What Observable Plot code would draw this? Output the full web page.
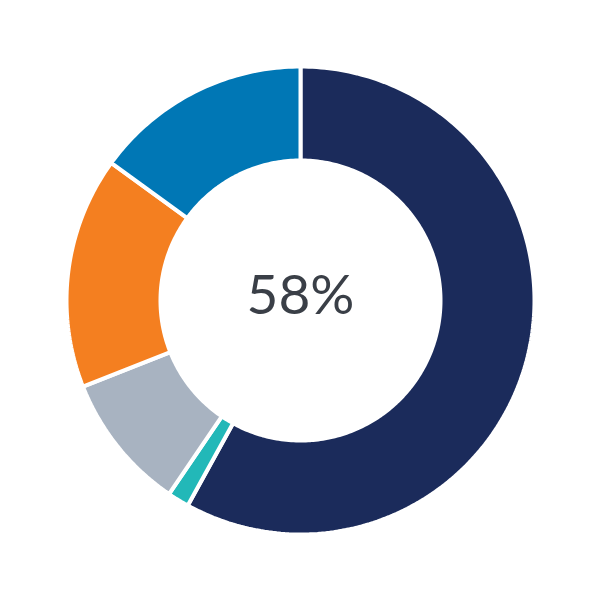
<!DOCTYPE html>
<html><head><meta charset="utf-8">
<script src="https://cdn.jsdelivr.net/npm/d3@7"></script>
<script src="https://cdn.jsdelivr.net/npm/@observablehq/plot@0.6"></script>
<style>body{margin:0;background:#fff}</style>
</head><body><div id="chart"></div>
<script>
const categories = ["Segment A", "Segment B", "Segment C", "Segment D", "Segment E"];
const values = [58, 1.5, 9.5, 16, 15];
const colors = ["#1b2b5b", "#22b8b8", "#a8b3c1", "#f47f20", "#0077b5"];
const centerLabel = ["58%"];

const total = d3.sum(values);
const R0 = 140 / 300, R1 = 234 / 300;
const pts = [];
let acc = 0;
categories.forEach((c, i) => {
  const a0 = acc / total * 2 * Math.PI;
  acc += values[i];
  const a1 = acc / total * 2 * Math.PI;
  const n = Math.max(2, Math.ceil((a1 - a0) / (Math.PI / 180)));
  for (let k = 0; k <= n; k++) { const a = a0 + (a1 - a0) * k / n; pts.push({cat: c, x: R1 * Math.sin(a), y: R1 * Math.cos(a)}); }
  for (let k = n; k >= 0; k--) { const a = a0 + (a1 - a0) * k / n; pts.push({cat: c, x: R0 * Math.sin(a), y: R0 * Math.cos(a)}); }
});

const chart = Plot.plot({
  width: 600, height: 600, margin: 0,
  x: {domain: [-1, 1], axis: null},
  y: {domain: [-1, 1], axis: null},
  color: {domain: categories, range: colors},
  style: {background: "#fff"},
  marks: [
    Plot.line(pts, {x: "x", y: "y", z: "cat", fill: "cat", stroke: "white", strokeWidth: 4, curve: "linear-closed", strokeLinejoin: "miter"}),
    Plot.text(centerLabel, {x: 0, y: 0, text: d => d, fontSize: 55, fontFamily: "Lato", fill: "#3a3f47", dy: -4})
  ]
});
document.getElementById("chart").appendChild(chart);
</script>
</body></html>
